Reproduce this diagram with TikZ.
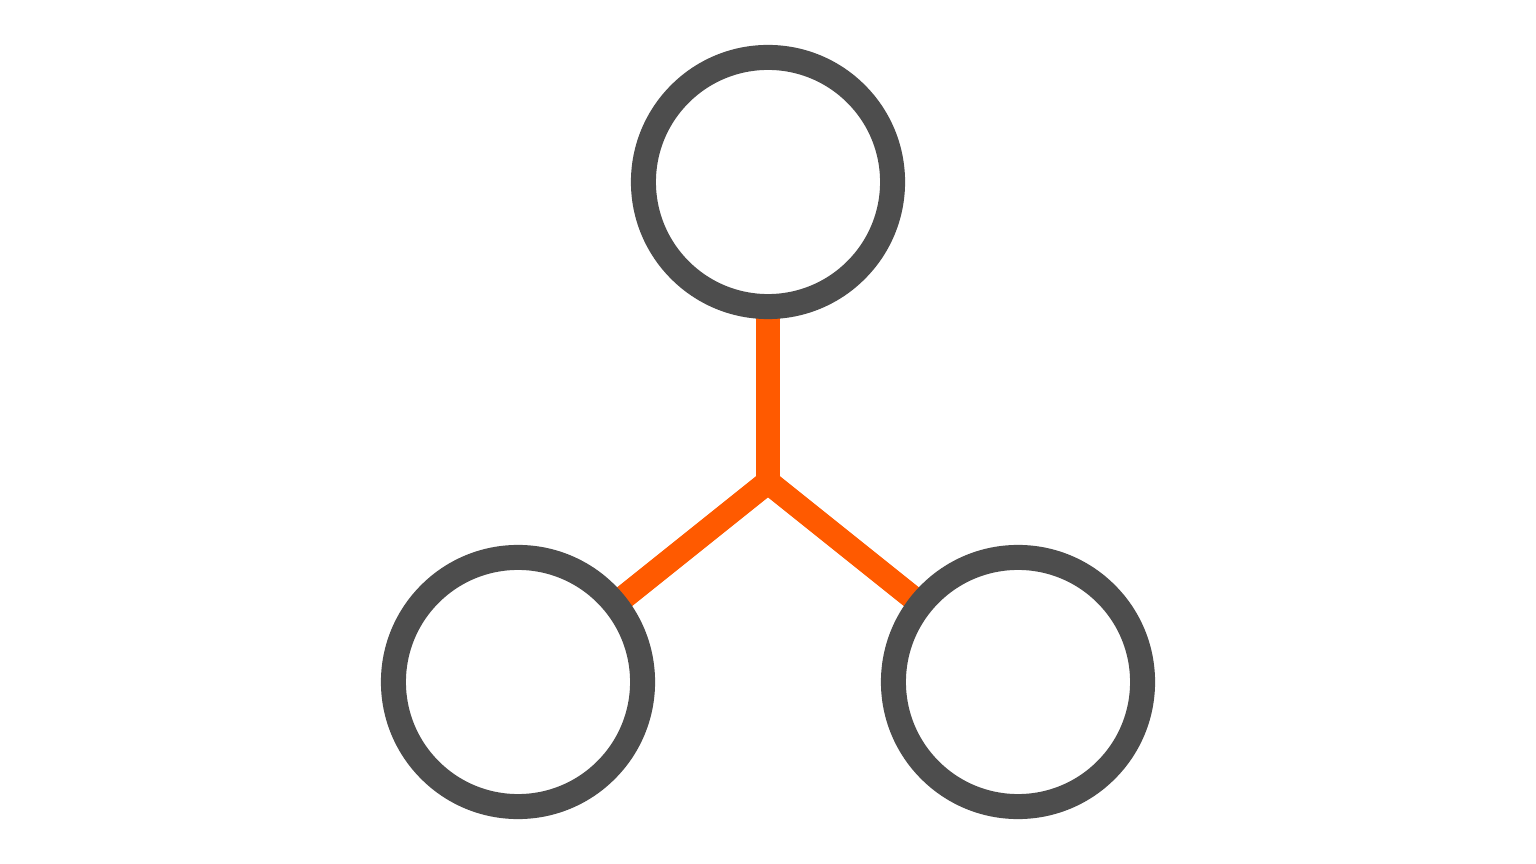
\documentclass[tikz,border=0pt]{standalone}
\usepackage{tikz}
\usetikzlibrary{backgrounds}
\definecolor{ringgray}{HTML}{4D4D4D}
\definecolor{linkorange}{HTML}{FF5A00}
\tikzset{
  ring/.style={circle,draw=ringgray,fill=white,line width=0.25cm,minimum size=2.49cm,inner sep=0pt},
  link/.style={draw=linkorange,line width=0.24cm,miter limit=10},
}

\begin{document}
\begin{tikzpicture}[x=0.01cm,y=-0.01cm]
\useasboundingbox (0,0) rectangle (1536,864);
\node[ring] (top) at (768,182) {};
\node[ring] (left) at (518,682) {};
\node[ring] (right) at (1018,682) {};
\coordinate (hub) at (768,482);
\begin{scope}[on background layer]
\path[link] (hub) -- (top.center);
\path[link] (left.center) -- (hub) -- (right.center);
\end{scope}
\end{tikzpicture}
\end{document}
